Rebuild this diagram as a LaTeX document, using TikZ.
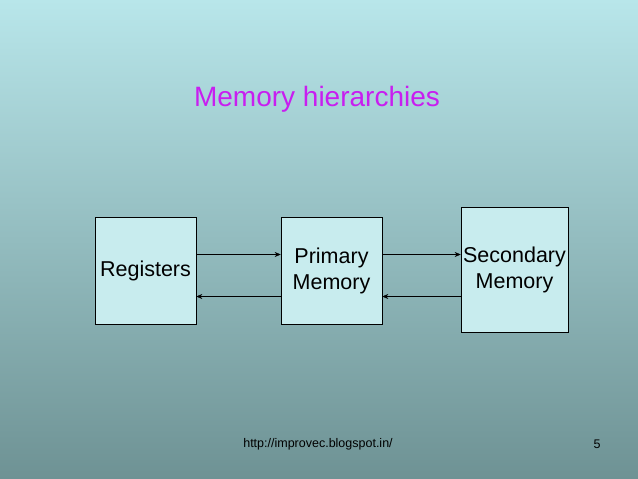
\documentclass[tikz,border=0pt]{standalone}
\usepackage{fontspec}
\setmainfont{Liberation Sans}
\usetikzlibrary{arrows.meta}
\begin{document}
\begin{tikzpicture}[x=1pt,y=-1pt,
 box/.style={draw=black,fill=boxc,line width=0.6pt,inner sep=0pt},
 lbl/.style={font=\fontsize{21.5}{26}\selectfont,align=center},
 arr/.style={-{Stealth[length=6pt,width=5pt]},line width=0.5pt}]
\definecolor{topc}{RGB}{184,230,234}
\definecolor{botc}{RGB}{110,146,148}
\definecolor{boxc}{RGB}{200,236,238}
\definecolor{titc}{RGB}{200,30,240}
\shade[top color=topc,bottom color=botc] (0,0) rectangle (638,479);
\useasboundingbox (0,0) rectangle (638,479);
\node[text=titc,font=\fontsize{28}{32}\selectfont] (t) at (317,99) {Memory hierarchies};
\node[box,minimum width=101,minimum height=107] (r) at (145.5,270.5) {};
\node[lbl] (rl) at (r) {Registers};
\node[box,minimum width=101,minimum height=107] (p) at (331.5,270.5) {};
\node[lbl] (pl) at (p) {Primary\\Memory};
\node[box,minimum width=107,minimum height=125] (s) at (514.5,269.5) {};
\node[lbl] (sl) at (s) {Secondary\\Memory};
\draw[arr] ([yshift=16]r.east) -- ([yshift=16]p.west);
\draw[arr] ([yshift=-26]p.west) -- ([yshift=-26]r.east);
\draw[arr] ([yshift=16]p.east) -- ([yshift=15]s.west);
\draw[arr] ([yshift=-27]s.west) -- ([yshift=-26]p.east);
\node[font=\fontsize{12.5}{14}\selectfont] (f) at (318,444) {http://improvec.blogspot.in/};
\node[font=\fontsize{12.5}{14}\selectfont] (n) at (597,444) {5};
\end{tikzpicture}
\end{document}
